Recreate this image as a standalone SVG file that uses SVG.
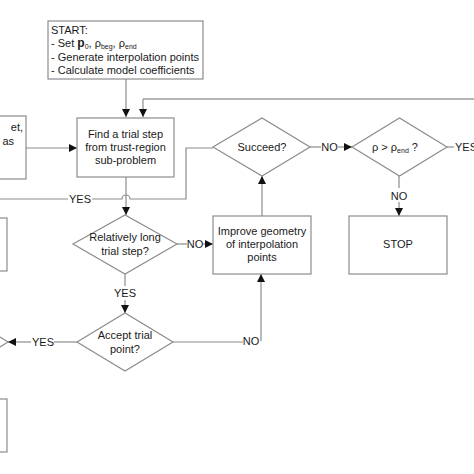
<svg xmlns="http://www.w3.org/2000/svg" width="474" height="474" viewBox="0 0 474 474">
<style>
.box{fill:#fff;stroke:#8c8c8c;stroke-width:1.2}
.ln{fill:none;stroke:#8c8c8c;stroke-width:1.2}
text{font-family:"Liberation Sans",Arial,sans-serif;font-size:11px;fill:#1a1a1a}
.c{text-anchor:middle}
.e{text-anchor:end}
</style>
<defs>
<marker id="arr" viewBox="0 0 10 10" refX="10" refY="5" markerWidth="8" markerHeight="8" markerUnits="userSpaceOnUse" orient="auto">
<path d="M0,0 L10,5 L0,10 z" fill="#111"/>
</marker>
</defs>
<rect width="474" height="474" fill="#fff"/>
<g id="connectors">
<path class="ln" d="M126,79 V117" marker-end="url(#arr)"/>
<path d="M474,99 H143" fill="none" stroke="#b4b4b4" stroke-width="1.8"/>
<path class="ln" d="M143,99 V117" marker-end="url(#arr)"/>
<path class="ln" d="M26,148 H77" marker-end="url(#arr)"/>
<path class="ln" d="M213,148 H186 V199 H130 A4,4 0 0 0 122,199 H92"/>
<path class="ln" d="M68,199 H0"/>
<path class="ln" d="M126,177 V215" marker-end="url(#arr)"/>
<path class="ln" d="M177,244 H187"/>
<path class="ln" d="M203,244 H213" marker-end="url(#arr)"/>
<path class="ln" d="M262,216 V176" marker-end="url(#arr)"/>
<path class="ln" d="M310,147 H321"/>
<path class="ln" d="M338,147 H352" marker-end="url(#arr)"/>
<path class="ln" d="M447,147 H454"/>
<path class="ln" d="M399,176 V188"/>
<path class="ln" d="M399,202 V216" marker-end="url(#arr)"/>
<path class="ln" d="M125,274 V286"/>
<path class="ln" d="M125,300 V313" marker-end="url(#arr)"/>
<path class="ln" d="M77,342 H54"/>
<path class="ln" d="M31,342 H8" marker-end="url(#arr)"/>
<path class="ln" d="M173,342 H243"/>
<path class="ln" d="M261,341 V274" marker-end="url(#arr)"/>
<text x="80" y="203" class="c">YES</text>
<text x="195" y="248" class="c">NO</text>
<text x="329.5" y="151" class="c">NO</text>
<text x="455" y="151">YES</text>
<text x="399" y="200" class="c">NO</text>
<text x="125" y="297" class="c">YES</text>
<text x="43" y="346" class="c">YES</text>
<text x="251" y="345" class="c">NO</text>
</g>
<g id="start">
<rect class="box" x="48" y="21" width="155" height="58"/>
<text x="51" y="34">START:</text>
<text x="51" y="47">- Set <tspan font-weight="bold" font-size="12">p</tspan><tspan font-size="7" dy="2">0</tspan><tspan dy="-2">, ρ</tspan><tspan font-size="7" dy="2">beg</tspan><tspan dy="-2">, ρ</tspan><tspan font-size="7" dy="2">end</tspan></text>
<text x="51" y="61">- Generate interpolation points</text>
<text x="51" y="74">- Calculate model coefficients</text>
</g>
<g id="left-top">
<rect class="box" x="-10" y="116" width="36" height="63"/>
<text x="23" y="131" class="e">et,</text>
<text x="14" y="145" class="e">as</text>
</g>
<g id="left-mid">
<rect class="box" x="-10" y="218" width="17" height="53"/>
</g>
<g id="left-diamond">
<path class="ln" d="M0,337 L8,342 L0,347"/>
</g>
<g id="left-bottom">
<rect class="box" x="-10" y="399" width="17" height="53"/>
</g>
<g id="find">
<rect class="box" x="77" y="118" width="97" height="59"/>
<text x="125.5" y="138" class="c">Find a trial step</text>
<text x="125.5" y="151" class="c">from trust-region</text>
<text x="125.5" y="164" class="c">sub-problem</text>
</g>
<g id="succeed">
<path class="box" d="M213,147 L262,118 L310,147 L262,176 z"/>
<text x="262" y="151" class="c">Succeed?</text>
</g>
<g id="rho">
<path class="box" d="M352,147 L399.5,118 L447,147 L399.5,176 z"/>
<text x="395" y="151" class="c" font-size="10.5">ρ &gt; ρ<tspan font-size="7" dy="2">end</tspan><tspan dy="-2"> ?</tspan></text>
</g>
<g id="relatively">
<path class="box" d="M73,244 L125,215 L177,244 L125,274 z"/>
<text x="125" y="241" class="c">Relatively long</text>
<text x="125" y="255" class="c">trial step?</text>
</g>
<g id="improve">
<rect class="box" x="213" y="216" width="98" height="58"/>
<text x="262" y="235" class="c">Improve geometry</text>
<text x="262" y="248" class="c">of interpolation</text>
<text x="262" y="261" class="c">points</text>
</g>
<g id="stop">
<rect class="box" x="349" y="216" width="98" height="58"/>
<text x="398" y="248" class="c">STOP</text>
</g>
<g id="accept">
<path class="box" d="M77,342 L125,313 L173,342 L125,371 z"/>
<text x="125" y="339" class="c">Accept trial</text>
<text x="125" y="353" class="c">point?</text>
</g>
</svg>
